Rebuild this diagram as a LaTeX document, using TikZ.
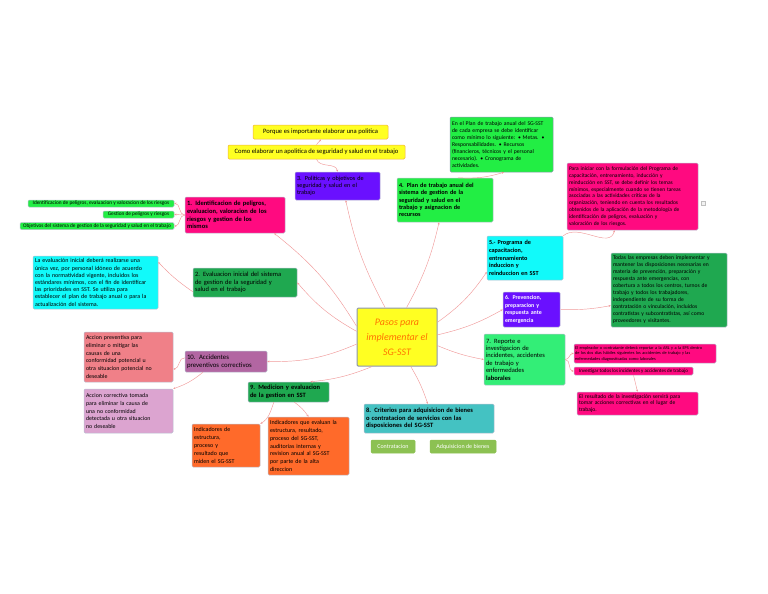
\documentclass[tikz,border=0pt]{standalone}
\usepackage{fontspec}
\setmainfont{Carlito}
\usepackage{xcolor}
\usetikzlibrary{arrows.meta}
\definecolor{linkred}{HTML}{F09A9A}
\definecolor{yel}{HTML}{FFFF22}
\definecolor{yelline}{HTML}{F0B040}
\definecolor{violeta}{HTML}{6A10FF}
\definecolor{verdevivo}{HTML}{22EE44}
\definecolor{verdeclaro}{HTML}{33EE77}
\definecolor{verdeosc}{HTML}{1FA850}
\definecolor{magenta2}{HTML}{FF0A80}
\definecolor{cian}{HTML}{11FAFA}
\definecolor{teal2}{HTML}{44C2C2}
\definecolor{oliva}{HTML}{8CC152}
\definecolor{naranja}{HTML}{FF6A2A}
\definecolor{malva}{HTML}{B266A2}
\definecolor{salmon2}{HTML}{F08088}
\definecolor{rosa}{HTML}{DCA4D0}
\definecolor{borde}{HTML}{8A95B0}
\newcommand{\fs}[2]{\fontsize{#1}{#2}\selectfont}

\begin{document}
\begin{tikzpicture}[x=1pt,y=-1pt,
  box/.style={draw=borde!60, line width=0.5pt, rounded corners=1.2pt, inner sep=2pt, align=left},
  note/.style={box, font=\fs{5}{6.8}},
  title/.style={box, font=\fs{6}{7}\bfseries},
  tag/.style={box, inner sep=1pt, font=\fs{5.3}{6}},
  link/.style={draw=linkred, line width=0.45pt, -{Stealth[length=2.2pt,width=2pt]}}]
\useasboundingbox (0,0) rectangle (768,594);
%%% The central node
\node[box, draw=borde, line width=1pt, fill=yel, text=orange!90!red, align=center,
  minimum width=80, minimum height=58, font=\fs{10}{15}\itshape] (c) at (397,337)
  {Pasos para\\ implementar el\\ SG-SST};
%%%%%% Step 3 and the two questions above it
\node[tag, fill=yel, draw=yelline, minimum width=135, minimum height=14, font=\fs{6.6}{7}] (porque) at (320.5,132)
  {Porque es importante elaborar una politica};
\node[tag, fill=yel, draw=yelline, minimum width=177, minimum height=14, font=\fs{6.6}{7}] (como) at (316.5,152)
  {Como elaborar un apolitica de seguridad y salud en el trabajo};
\node[title, fill=violeta, font=\fs{6.2}{7.2}, text width=81, minimum height=28] (n3) at (337.5,186)
  {3. Politicas y objetivos de\\ seguridad y salud en el\\ trabajo};
%%%%%% Step 4 and its note
\node[title, fill=verdevivo, font=\fs{6.2}{7.4}\bfseries, text width=92, minimum height=44] (n4) at (445,200)
  {4. Plan de trabajo anual del\\ sistema de gestion de la\\ seguridad y salud en el\\ trabajo y asignacion de\\ recursos};
\node[note, fill=verdevivo, draw=borde, font=\fs{5.7}{7}, text width=99, minimum height=55] (n4note) at (501.5,144.5)
  {En el Plan de trabajo anual del SG-SST\\ de cada empresa se debe identificar\\ como mínimo lo siguiente: • Metas. •\\ Responsabilidades. • Recursos\\ (financieros, técnicos y el personal\\ necesario). • Cronograma de\\ actividades.};
%%%%%% Step 5 and its note
\node[note, fill=magenta2, font=\fs{5.5}{6.9}, text width=127, minimum height=67] (n5note) at (632.5,196.5)
  {Para iniciar con la formulación del Programa de\\ capacitación, entrenamiento, inducción y\\ reinducción en SST, se debe definir los temas\\ mínimos, especialmente cuando se tienen tareas\\ asociadas a las actividades críticas de la\\ organización, teniendo en cuenta los resultados\\ obtenidos de la aplicación de la metodología de\\ identificación de peligros, evaluación y\\ valoración de los riesgos.};
\node[draw=gray!50, fill=gray!10, minimum size=4, inner sep=0pt] (fold) at (703,203) {};
\node[title, fill=cian, font=\fs{6.2}{7.6}\bfseries, text width=72, minimum height=44] (n5) at (525,258)
  {5.- Programa de\\ capacitacion,\\ entrenamiento\\ induccion y\\ reinduccion en SST};
%%%%%% Step 6 and its note
\node[title, fill=violeta, text=white, font=\fs{5.9}{7.4}\bfseries, text width=53, minimum height=35] (n6) at (531.5,309.5)
  {6. Prevencion,\\ preparacion y\\ respuesta ante\\ emergencia};
\node[note, fill=verdeosc, font=\fs{5.6}{7}, text width=112, minimum height=74] (n6note) at (669,290)
  {Todas las empresas deben implementar y\\ mantener las disposiciones necesarias en\\ materia de prevención, preparación y\\ respuesta ante emergencias, con\\ cobertura a todos los centros, turnos de\\ trabajo y todos los trabajadores,\\ independiente de su forma de\\ contratación o vinculación, incluidos\\ contratistas y subcontratistas, así como\\ proveedores y visitantes.};
%%%%%% Step 7 and its notes
\node[title, fill=verdeclaro, font=\fs{6.5}{7.4}, text width=77, minimum height=51] (n7) at (524.5,359.5)
  {7. Reporte e\\ investigacion de\\ incidentes, accidentes\\ de trabajo y\\ enfermedades\\ \textbf{laborales}};
\node[note, fill=magenta2, inner sep=1pt, font=\fs{4.3}{5.6}, text width=140, minimum height=19] (n7a) at (645,353.5)
  {El empleador o contratante deberá reportar a la ARL y a la EPS dentro\\ de los dos días hábiles siguientes los accidentes de trabajo y las\\ enfermedades diagnosticadas como laborales};
\node[tag, fill=magenta2, font=\fs{5}{5.5}, minimum width=119, minimum height=8] (n7b) at (633.5,371)
  {Investigar todos los incidentes y accidentes de trabajo};
\node[note, fill=magenta2, font=\fs{5.6}{6.6}, text width=117, minimum height=23] (n7c) at (637.5,403.5)
  {El resultado de la investigación servirá para\\ tomar acciones correctivas en el lugar de\\ trabajo.};
%%%%%% Step 8 and its two items
\node[title, fill=teal2, font=\fs{6.5}{7.6}\bfseries, text width=126, minimum height=29] (n8) at (429,418.5)
  {8. Criterios para adquisicion de bienes\\ o contratacion de servicios con las\\ disposiciones del SG-SST};
\node[tag, fill=oliva, draw=oliva, text=white, font=\fs{6}{6.5}, minimum width=44, minimum height=13] (contra) at (393,446.5)
  {Contratacion};
\node[tag, fill=oliva, draw=oliva, text=white, font=\fs{6}{6.5}, minimum width=66, minimum height=13] (adqui) at (463,446.5)
  {Adquisicion de bienes};
%%%%%% Step 9 and its notes
\node[title, fill=verdeosc, font=\fs{6.5}{7.6}\bfseries, text width=77, minimum height=20] (n9) at (288.5,392)
  {9. Medicion y evaluacion\\ de la gestion en SST};
\node[note, fill=naranja, font=\fs{6}{7.8}, text width=64, minimum height=43] (n9a) at (226,445.5)
  {Indicadores de\\ estructura,\\ proceso y\\ resultado que\\ miden el SG-SST};
\node[note, fill=naranja, font=\fs{6}{7.8}, text width=77, minimum height=58] (n9b) at (308.5,446)
  {Indicadores que evaluan la\\ estructura, resultado,\\ proceso del SG-SST,\\ auditorias internas y\\ revision anual al SG-SST\\ por parte de la alta\\ direccion};
%%%%%% Step 10 and its notes
\node[title, fill=malva, font=\fs{6.8}{7.6}, text width=78, minimum height=21] (n10) at (226,361.5)
  {10. Accidentes\\ preventivos correctivos};
\node[note, fill=salmon2, font=\fs{5.9}{7.8}, text width=85, minimum height=50] (n10a) at (128.5,357)
  {Accion preventiva para\\ eliminar o mitigar las\\ causas de una\\ conformidad potencial u\\ otra situacion potencial no\\ deseable};
\node[note, fill=rosa, font=\fs{5.9}{7.8}, text width=85, minimum height=44] (n10b) at (128.5,411)
  {Accion correctiva tomada\\ para eliminar la causa de\\ una no conformidad\\ detectada u otra situacion\\ no deseable};
%%%%%% Step 1 and its items
\node[title, fill=magenta2, font=\fs{6.5}{7.6}\bfseries, text width=96, minimum height=36] (n1) at (235,215)
  {1. Identificacion de peligros,\\ evaluacion, valoracion de los\\ riesgos y gestion de los\\ mismos};
\node[tag, fill=verdevivo, minimum width=146, minimum height=7] (n1a) at (101,203.5)
  {Identificacion de peligros, evaluacion y valoracion de los riesgos};
\node[tag, fill=verdevivo, minimum width=71, minimum height=7] (n1b) at (138.5,214.5)
  {Gestion de peligros y riesgos};
\node[tag, fill=verdevivo, minimum width=154, minimum height=7] (n1c) at (97,226)
  {Objetivos del sistema de gestion de la seguridad y salud en el trabajo};
%%%%%% Step 2 and its note
\node[title, fill=verdeosc, font=\fs{6.5}{7.6}\bfseries, text width=100, minimum height=29] (n2) at (245,282.5)
  {\mdseries 2. Evaluacion inicial del sistema\\ de gestion de la seguridad y\\ salud en el trabajo};
\node[note, fill=cian, font=\fs{6}{7.2}, text width=121, minimum height=53] (n2note) at (95.5,282.5)
  {La evaluación inicial deberá realizarse una\\ única vez, por personal idóneo de acuerdo\\ con la normatividad vigente, incluidos los\\ estándares mínimos, con el fin de identificar\\ las prioridades en SST. Se utiliza para\\ establecer el plan de trabajo anual o para la\\ actualización del sistema.};
%%%%%% The links from the central node
\draw[link] (c.165) to[bend right=10] (n1.-25);
\draw[link] (c.172) to[bend left=10] (n2.east);
\draw[link] (c.112) to[bend left=8] (n3.-60);
\draw[link] (c.72) to[bend right=8] (n4.-105);
\draw[link] (c.20) to[bend right=10] (n5.-160);
\draw[link] (c.3) to[bend right=8] (n6.west);
\draw[link] (c.-12) to[bend right=6] (n7.west);
\draw[link] (c.-65) to[bend left=6] (n8.95);
\draw[link] (c.-130) to[bend left=8] (n9.25);
\draw[link] (c.-170) to[bend left=12] (n10.east);
%%%%%% The links to the notes
\draw[link] (como.north) to[out=80,in=-100] (porque.south);
\draw[link] (como.south) to[out=-70,in=100] (n3.north);
\draw[link] (n4.60) to[bend right=10] (n4note.-85);
\draw[link] (n5.north east) to[out=40,in=-105] (n5note.-118);
\draw[link] (n6.east) to[bend right=6] (n6note.-165);
\draw[link] (n7.east) to[out=0,in=180] (n7a.west);
\draw[link] (n7.east) to[out=0,in=180] (n7b.west);
\draw[link] (n7b.south) -- (n7c.north);
\draw[link] (n9.-145) to[out=-110,in=30] (n9a.north east);
\draw[link] (n9.-60) to[bend left=10] (n9b.north);
\draw[link] (n10.175) to[out=170,in=0] (n10a.-15);
\draw[link] (n10.-155) to[bend left=10] (n10b.north east);
\draw[link] (n1.west) to[out=180,in=0] (n1a.east);
\draw[link] (n1.west) to[out=180,in=0] (n1b.east);
\draw[link] (n1.west) to[out=180,in=0] (n1c.east);
\draw[link] (n2.-170) to[bend left=6] (n2note.18);
\end{tikzpicture}
\end{document}
